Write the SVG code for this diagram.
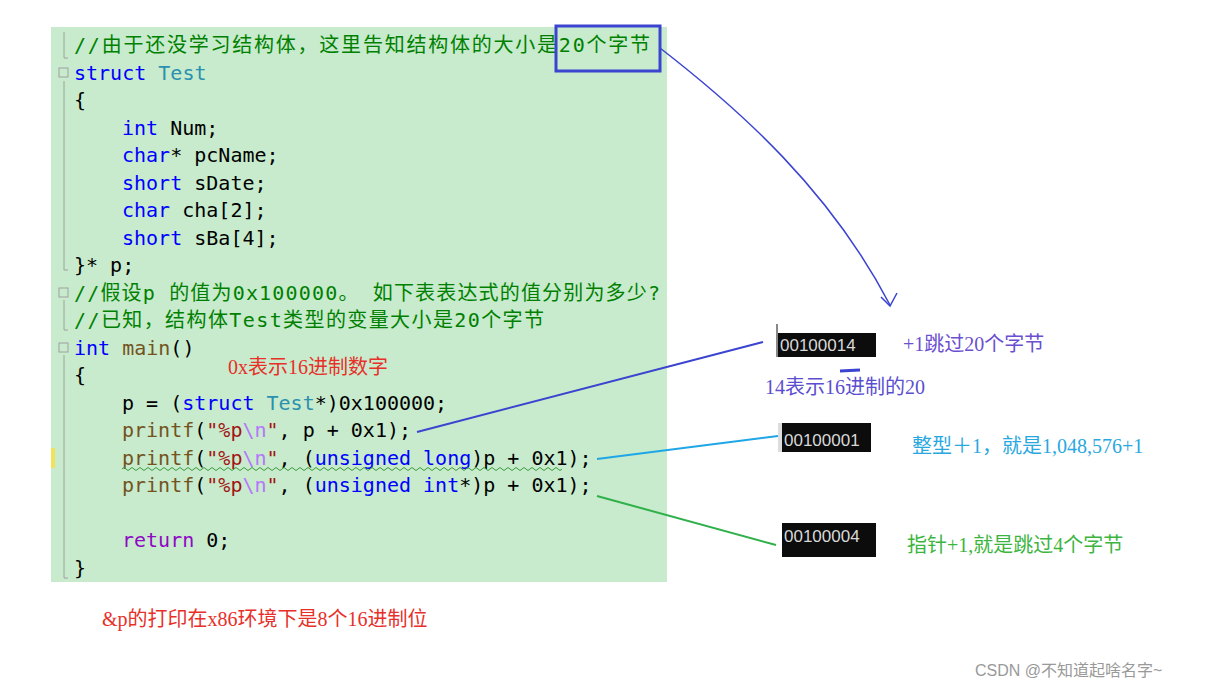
<svg xmlns="http://www.w3.org/2000/svg" width="1217" height="690" viewBox="0 0 1217 690">
<style>
.c{font-family:"DejaVu Sans Mono","Noto Sans CJK SC",monospace;font-size:20px;fill:#000}
.k{fill:#0000ff}.t{fill:#2b91af}.f{fill:#74531f}.s{fill:#a31515}.e{fill:#b776fb}.r{fill:#8f08c4}.g{fill:#008000}
.n{font-family:"Liberation Serif","Noto Sans CJK SC",serif;font-size:20px}
.con{font-family:"Liberation Sans",sans-serif;font-size:17px;fill:#d8d8d8}
</style>
<rect width="1217" height="690" fill="#fff"/>
<g id="code">
<rect x="51" y="27" width="616" height="555" fill="#c7ebcc"/>
<g stroke="#a0a0a0" fill="none" stroke-width="1">
<path d="M64 32V58H68M64 81V270H68M64 300V330H68M64 355V578H68"/>
<rect x="59" y="68" width="9" height="9"/><rect x="59" y="288" width="9" height="9"/><rect x="59" y="343" width="9" height="9"/>
</g>
<rect x="51" y="448" width="4" height="20" fill="#f2e15a"/>
<text class="c g" x="74" y="52" textLength="576">//由于还没学习结构体，这里告知结构体的大小是20个字节</text>
<text class="c" x="74" y="80"><tspan class="k">struct</tspan> <tspan class="t">Test</tspan></text>
<text class="c" x="74" y="107">{</text>
<text class="c" x="122" y="135"><tspan class="k">int</tspan> Num;</text>
<text class="c" x="122" y="162"><tspan class="k">char</tspan>* pcName;</text>
<text class="c" x="122" y="190"><tspan class="k">short</tspan> sDate;</text>
<text class="c" x="122" y="217"><tspan class="k">char</tspan> cha[2];</text>
<text class="c" x="122" y="245"><tspan class="k">short</tspan> sBa[4];</text>
<text class="c" x="74" y="272">}* p;</text>
<text class="c g" x="74" y="300" textLength="586">//假设p 的值为0x100000。 如下表表达式的值分别为多少?</text>
<text class="c g" x="74" y="327" textLength="470">//已知，结构体Test类型的变量大小是20个字节</text>
<text class="c" x="74" y="355"><tspan class="k">int</tspan> <tspan class="f">main</tspan>()</text>
<text class="c" x="74" y="382">{</text>
<text class="c" x="122" y="410">p = (<tspan class="k">struct</tspan> <tspan class="t">Test</tspan>*)0x100000;</text>
<text class="c" x="122" y="437"><tspan class="f">printf</tspan>(<tspan class="s">"%p</tspan><tspan class="e">\n</tspan><tspan class="s">"</tspan>, p + 0x1);</text>
<text class="c" x="122" y="465"><tspan class="f">printf</tspan>(<tspan class="s">"%p</tspan><tspan class="e">\n</tspan><tspan class="s">"</tspan>, (<tspan class="k">unsigned long</tspan>)p + 0x1);</text>
<path d="M122 469q2-3 4 0t4 0t4 0t4 0t4 0t4 0t4 0t4 0t4 0t4 0t4 0t4 0t4 0t4 0t4 0t4 0t4 0t4 0t4 0t4 0t4 0t4 0t4 0t4 0t4 0t4 0t4 0t4 0t4 0t4 0t4 0t4 0t4 0t4 0t4 0t4 0t4 0t4 0t4 0t4 0t4 0t4 0t4 0t4 0t4 0t4 0t4 0t4 0t4 0t4 0t4 0t4 0t4 0t4 0t4 0t4 0t4 0t4 0t4 0t4 0t4 0t4 0t4 0t4 0t4 0t4 0t4 0t4 0t4 0t4 0t4 0t4 0t4 0t4 0t4 0t4 0t4 0t4 0t4 0t4 0t4 0t4 0t4 0t4 0t4 0t4 0t4 0t4 0t4 0t4 0t4 0t4 0t4 0t4 0t4 0t4 0t4 0t4 0t4 0t4 0t4 0t4 0t4 0t4 0t4 0t4 0t4 0t4 0t4 0t4 0" fill="none" stroke="#3c9a3c" stroke-width="1"/>
<text class="c" x="122" y="492"><tspan class="f">printf</tspan>(<tspan class="s">"%p</tspan><tspan class="e">\n</tspan><tspan class="s">"</tspan>, (<tspan class="k">unsigned int</tspan>*)p + 0x1);</text>
<text class="c" x="122" y="547"><tspan class="r">return</tspan> 0;</text>
<text class="c" x="74" y="575">}</text>
</g>
<g id="highlight"><rect x="556" y="26" width="104" height="45" fill="none" stroke="#3b44d0" stroke-width="3"/></g>
<g id="out1"><rect x="778" y="333" width="98" height="24" fill="#0c0c0c"/><rect x="776" y="324" width="2" height="33" fill="#888"/><text class="con" x="780" y="351">00100014</text></g>
<g id="out2"><rect x="778" y="423" width="93" height="29" fill="#0c0c0c"/><rect x="778" y="423" width="4" height="29" fill="#ddd"/><text class="con" x="784" y="446">00100001</text></g>
<g id="out3"><rect x="782" y="523" width="94" height="34" fill="#0c0c0c"/><text class="con" x="784" y="542">00100004</text></g>
<g id="connectors" fill="none" stroke-width="2">
<path d="M660 48C740 110 830 190 890 305" stroke="#3b44d0" stroke-width="1.5"/>
<path d="M881 297L890 306L897 293" stroke="#3b44d0" stroke-width="1.5"/>
<path d="M417 432L763 342" stroke="#3b44d0"/>
<path d="M597 459L778 436" stroke="#1ea6e6"/>
<path d="M597 496L776 545" stroke="#2fb04a"/>
<path d="M840 371L860 370" stroke="#3b44d0" stroke-width="3"/>
</g>
<g id="labels">
<text class="n" x="228" y="374" fill="#e8302a">0x表示16进制数字</text>
<text class="n" x="903" y="351" fill="#6a4fd0">+1跳过20个字节</text>
<text class="n" x="765" y="394" fill="#5b4fd0">14表示16进制的20</text>
<text class="n" x="912" y="453" fill="#29a8e0">整型＋1，就是1,048,576+1</text>
<text class="n" x="907" y="552" fill="#3cb540">指针+1,就是跳过4个字节</text>
<text class="n" x="102" y="626" fill="#e8302a">&amp;p的打印在x86环境下是8个16进制位</text>
<text x="975" y="676" font-family="Liberation Sans,Noto Sans CJK SC,sans-serif" font-size="16" fill="#999">CSDN @不知道起啥名字~</text>
</g>
</svg>
